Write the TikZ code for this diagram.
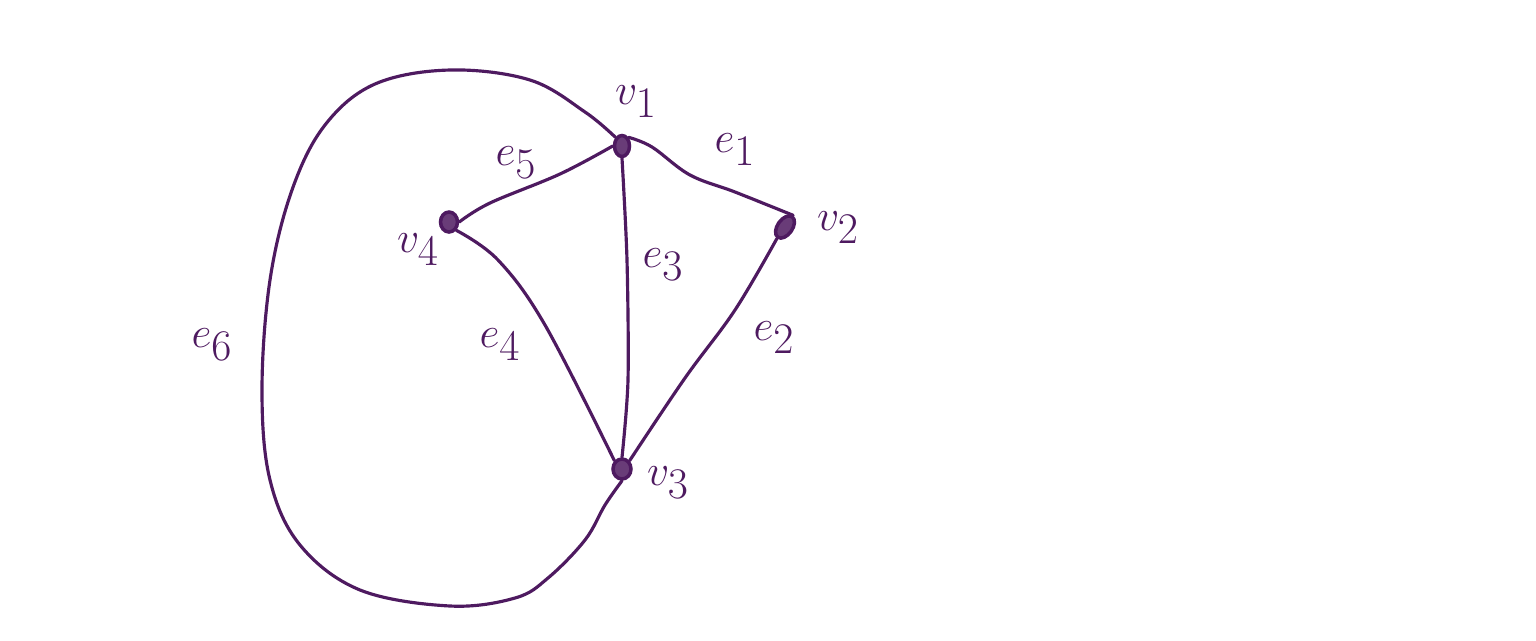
\documentclass[tikz,border=0pt]{standalone}
\definecolor{pen}{RGB}{78,26,96}
\tikzset{
  edge/.style={draw=pen, line width=1.8pt, line cap=round, line join=round},
  vtx/.style={ellipse, draw=pen, fill=pen!85, line width=2pt, inner sep=0pt},
  lbl/.style={text=pen, inner sep=0pt, font=\fontsize{34}{40}\selectfont}
}
\usetikzlibrary{shapes.geometric}
\begin{document}
\begin{tikzpicture}[x=0.02cm,y=-0.02cm]
\useasboundingbox (0,0) rectangle (1536,640);
% vertices
\node[vtx, minimum width=0.3cm, minimum height=0.42cm] (v1) at (622,146) {};
\node[vtx, rotate=-35, minimum width=0.3cm, minimum height=0.5cm] (v2) at (785,227) {};
\node[vtx, minimum width=0.36cm, minimum height=0.4cm] (v3) at (622,469) {};
\node[vtx, minimum width=0.34cm, minimum height=0.4cm] (v4) at (449,222) {};
% edges
\draw[edge] plot[smooth, tension=0.6] coordinates {(v1.north east) (652,147) (690,175) (735,192) (v2.north)};
\draw[edge] plot[smooth, tension=0.6] coordinates {(v4.east) (490,203) (560,174) (v1.west)};
\draw[edge] plot[smooth, tension=0.5] coordinates {(v1.south) (627,260) (628,380) (v3.north)};
\draw[edge] plot[smooth, tension=0.6] coordinates {(v4.south east) (498,260) (545,325) (v3.north west)};
\draw[edge] plot[smooth, tension=0.6] coordinates {(v2.south) (735,310) (685,378) (v3.north east)};
\draw[edge] plot[smooth, tension=0.6] coordinates {(v1.north west) (585,112) (530,80) (450,70) (375,84) (325,125) (292,190) (270,280) (262,390) (270,480) (300,545) (360,590) (450,606) (515,598) (548,578) (585,540) (605,505) (v3.south)};
% labels
\node[lbl] (l1) at (636,102) {$v_{1}$};
\node[lbl] (l2) at (838,228) {$v_{2}$};
\node[lbl] (l3) at (668,483) {$v_{3}$};
\node[lbl] (l4) at (418,250) {$v_{4}$};
\node[lbl] (m1) at (735,150) {$e_{1}$};
\node[lbl] (m2) at (774,338) {$e_{2}$};
\node[lbl] (m3) at (663,265) {$e_{3}$};
\node[lbl] (m4) at (500,345) {$e_{4}$};
\node[lbl] (m5) at (516,163) {$e_{5}$};
\node[lbl] (m6) at (212,345) {$e_{6}$};
\end{tikzpicture}
\end{document}
